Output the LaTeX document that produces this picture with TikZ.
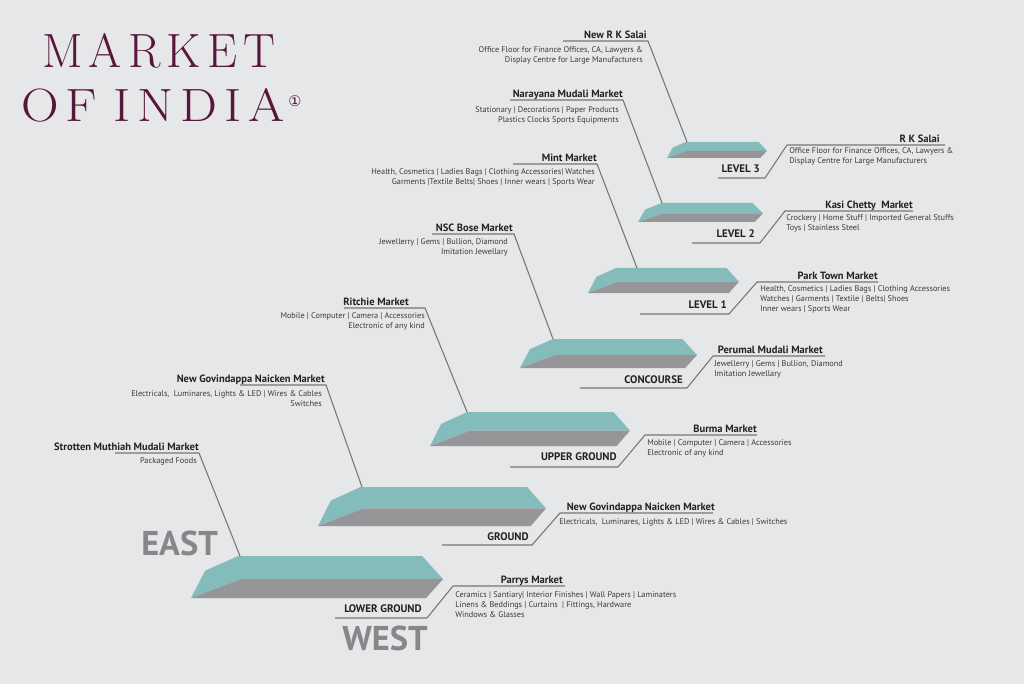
\documentclass[tikz,border=0pt]{standalone}
\usepackage{fontspec}
\usepackage{graphicx}
\setsansfont{PT Sans}
\newfontfamily\symfont{DejaVu Sans}
\definecolor{bg}{RGB}{229,231,233}
\definecolor{tealc}{RGB}{132,188,188}
\definecolor{grayc}{RGB}{150,150,152}
\definecolor{linec}{RGB}{118,118,120}
\definecolor{titc}{RGB}{34,34,36}
\definecolor{descc}{RGB}{58,58,60}
\definecolor{dirc}{RGB}{135,135,138}
\definecolor{purp}{RGB}{88,22,60}
\newcommand\floorslab[4]{%
  \fill[tealc] ({#1+0.187*#3},{#2-#4}) -- ({#1+0.917*#3},{#2-#4}) -- ({#1+#3},{#2-0.45*#4})
     -- ({#1+0.2*#3},{#2-0.45*#4}) -- (#1,#2) -- ({#1+0.056*#3},{#2-0.65*#4}) -- cycle;
  \fill[grayc] ({#1+0.2*#3},{#2-0.45*#4}) -- ({#1+#3},{#2-0.45*#4}) -- ({#1+0.933*#3},#2) -- (#1,#2) -- cycle;}
\newcommand\tsp{\kern0.13em}
\tikzset{
  conn/.style={draw=linec, line width=0.8pt},
  mtitle/.style={font=\sffamily\bfseries\fontsize{7.9}{9.5}\selectfont, text=titc, inner sep=0pt},
  mdesc/.style={font=\sffamily\fontsize{6.2}{7.5}\selectfont, text=descc, inner sep=0pt},
  lvl/.style={font=\sffamily\bfseries\fontsize{8.2}{9.8}\selectfont, text=titc, inner sep=0pt, anchor=base east},
  dirtext/.style={font=\sffamily\bfseries\fontsize{25.8}{27}\selectfont, text=dirc, inner sep=0pt, anchor=base west},
}
\begin{document}
\begin{tikzpicture}[x=0.75pt,y=-0.75pt]
\fill[bg] (0,0) rectangle (1024,684);
\useasboundingbox (0,0) rectangle (1024,684);

% title
\node[anchor=north west, inner sep=0pt, text=purp] (title1) at (42,33)
  {\resizebox{174.75pt}{25.5pt}{\rmfamily\fontsize{37}{40}\selectfont M\tsp A\tsp R\tsp K\tsp E\tsp T}};
\node[anchor=north west, inner sep=0pt, text=purp] (title2) at (21,88.5)
  {\resizebox{197.25pt}{24.75pt}{\rmfamily\fontsize{37}{40}\selectfont O\tsp F\kern0.32em I\tsp N\tsp D\tsp I\tsp A}};
\node[font=\symfont\fontsize{11}{11}\selectfont, text=purp, inner sep=0pt] (circ) at (295,101.5) {①};

% slabs
\floorslab{191}{598}{252}{42}
\floorslab{318}{526}{228}{39}
\floorslab{430}{446}{200}{34}
\floorslab{520}{368}{177}{29}
\floorslab{588}{293}{151}{25}
\floorslab{638}{222}{125}{19}
\floorslab{667}{158}{100}{16}

% attach points on slabs
\coordinate (l3att) at (687,142);
\coordinate (l2att) at (662,203);
\coordinate (l1att) at (637,268);
\coordinate (catt) at (553,339);
\coordinate (ugatt) at (467,412);
\coordinate (gatt) at (362,487);
\coordinate (lgatt) at (240,556);

% ---------- left labels ----------
% New R K Salai
\coordinate (nrka) at (563,41); \coordinate (nrkb) at (648,41);
\draw[conn] (nrka) -- (nrkb) -- (l3att);
\node[mtitle, anchor=base east] (nrkt) at (647,38.5) {New R K Salai};
\node[mdesc, anchor=base east, align=right] (nrkd) at (643,62.5) {Office Floor for Finance Offices, CA, Lawyers \&\\Display Centre for Large Manufacturers};
% Narayana
\coordinate (nara) at (510,100); \coordinate (narb) at (623,100);
\draw[conn] (nara) -- (narb) -- (l2att);
\node[mtitle, anchor=base east] (nart) at (623,97.5) {Narayana Mudali Market};
\node[mdesc, anchor=base east, align=right] (nard) at (619,122.5) {Stationary | Decorations | Paper Products\\Plastics Clocks Sports Equipments};
% Mint
\coordinate (minta) at (513,164); \coordinate (mintb) at (597,164);
\draw[conn] (minta) -- (mintb) -- (l1att);
\node[mtitle, anchor=base east] (mintt) at (597,161.5) {Mint Market};
\node[mdesc, anchor=base east, align=right] (mintd) at (595,184.5) {Health, Cosmetics | Ladies Bags | Clothing Accessories| Watches\\Garments |Textile Belts| Shoes | Inner wears | Sports Wear};
% NSC Bose
\coordinate (nsca) at (432,234); \coordinate (nscb) at (514,234);
\draw[conn] (nsca) -- (nscb) -- (catt);
\node[mtitle, anchor=base east] (nsct) at (513,231.5) {NSC Bose Market};
\node[mdesc, anchor=base east, align=right] (nscd) at (508,254.5) {Jewellerry | Gems | Bullion, Diamond\\Imitation Jewellary};
% Ritchie
\coordinate (rita) at (344,308); \coordinate (ritb) at (425,308);
\draw[conn] (rita) -- (ritb) -- (ugatt);
\node[mtitle, anchor=base east] (ritt) at (409,305.5) {Ritchie Market};
\node[mdesc, anchor=base east, align=right] (ritd) at (425,328.5) {Mobile | Computer | Camera | Accessories\\Electronic of any kind};
% New Govindappa (left)
\coordinate (ngla) at (240,385); \coordinate (nglb) at (326,385);
\draw[conn] (ngla) -- (nglb) -- (gatt);
\node[mtitle, anchor=base east] (nglt) at (325,382.5) {New Govindappa Naicken Market};
\node[mdesc, anchor=base east, align=right] (ngld) at (322,406) {Electricals,\ \ Luminares, Lights \& LED | Wires \& Cables\\Switches};
% Strotten
\coordinate (stra) at (115,453); \coordinate (strb) at (199,453);
\draw[conn] (stra) -- (strb) -- (lgatt);
\node[mtitle, anchor=base east] (strt) at (199,450.5) {Strotten Muthiah Mudali Market};
\node[mdesc, anchor=base east] (strd) at (197,463.5) {Packaged Foods};

% ---------- right labels ----------
% Level 3
\coordinate (l3a) at (718,178); \coordinate (l3b) at (765,178);
\coordinate (l3c) at (787,145); \coordinate (l3d) at (945,145);
\draw[conn] (l3a) -- (l3b) -- (l3c) -- (l3d);
\node[lvl] (l3n) at (760,172.5) {LEVEL 3};
\node[mtitle, anchor=base east] (rkt) at (940,142.5) {R K Salai};
\node[mdesc, anchor=base west, align=left] (rkd) at (789,163.5) {Office Floor for Finance Offices, CA, Lawyers \&\\Display Centre for Large Manufacturers};
% Level 2
\coordinate (l2a) at (692,243); \coordinate (l2b) at (760,243);
\coordinate (l2c) at (785,211); \coordinate (l2d) at (913,211);
\draw[conn] (l2a) -- (l2b) -- (l2c) -- (l2d);
\node[lvl] (l2n) at (755,237.5) {LEVEL 2};
\node[mtitle, anchor=base east] (kast) at (913,208.5) {Kasi Chetty\ \ Market};
\node[mdesc, anchor=base west, align=left] (kasd) at (786,231) {Crockery | Home Stuff | Imported General Stuffs\\Toys | Stainless Steel};
% Level 1
\coordinate (l1a) at (640,314); \coordinate (l1b) at (729,314);
\coordinate (l1c) at (757,282); \coordinate (l1d) at (878,282);
\draw[conn] (l1a) -- (l1b) -- (l1c) -- (l1d);
\node[lvl] (l1n) at (727,308.5) {LEVEL 1};
\node[mtitle, anchor=base east] (ptt) at (878,279.5) {Park Town Market};
\node[mdesc, anchor=base west, align=left] (ptd) at (760,311.5) {Health, Cosmetics | Ladies Bags | Clothing Accessories\\Watches | Garments | Textile | Belts| Shoes\\Inner wears | Sports Wear};
% Concourse
\coordinate (ca) at (580,388); \coordinate (cb) at (687,388);
\coordinate (cc) at (713,356); \coordinate (cd) at (825,356);
\draw[conn] (ca) -- (cb) -- (cc) -- (cd);
\node[lvl] (cn) at (683,383.5) {CONCOURSE};
\node[mtitle, anchor=base east] (pmt) at (823,353.5) {Perumal Mudali Market};
\node[mdesc, anchor=base west, align=left] (pmd) at (714,376) {Jewellerry | Gems | Bullion, Diamond\\Imitation Jewellary};
% Upper ground
\coordinate (uga) at (510,467); \coordinate (ugb) at (618,467);
\coordinate (ugc) at (645,435); \coordinate (ugd) at (757,435);
\draw[conn] (uga) -- (ugb) -- (ugc) -- (ugd);
\node[lvl] (ugn) at (617,460.5) {UPPER GROUND};
\node[mtitle, anchor=base east] (bmt) at (757,432.5) {Burma Market};
\node[mdesc, anchor=base west, align=left] (bmd) at (647,455.5) {Mobile | Computer | Camera | Accessories\\Electronic of any kind};
% Ground
\coordinate (ga) at (442,545); \coordinate (gb) at (532,545);
\coordinate (gc) at (560,513); \coordinate (gd) at (713,513);
\draw[conn] (ga) -- (gb) -- (gc) -- (gd);
\node[lvl] (gn) at (529,540.5) {GROUND};
\node[mtitle, anchor=base east] (ngrt) at (715,510.5) {New Govindappa Naicken Market};
\node[mdesc, anchor=base west] (ngrd) at (559,524.5) {Electricals,\ \ Luminares, Lights \& LED | Wires \& Cables | Switches};
% Lower ground
\coordinate (lga) at (335,618); \coordinate (lgb) at (427,618);
\coordinate (lgc) at (453,586); \coordinate (lgd) at (565,586);
\draw[conn] (lga) -- (lgb) -- (lgc) -- (lgd);
\node[lvl] (lgn) at (422,612.5) {LOWER GROUND};
\node[mtitle, anchor=base east] (pat) at (563,583.5) {Parrys Market};
\node[mdesc, anchor=base west, align=left] (pad) at (455,617) {Ceramics | Santiary| Interior Finishes | Wall Papers | Laminaters\\Linens \& Beddings | Curtains\ \ | Fittings, Hardware\\Windows \& Glasses};

% directions
\node[dirtext] (east) at (141,555) {EAST};
\node[dirtext] (west) at (342,650) {WEST};
\end{tikzpicture}
\end{document}
